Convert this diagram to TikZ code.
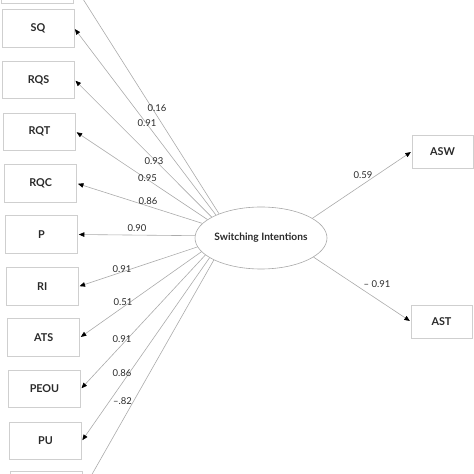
\documentclass[tikz,border=0pt]{standalone}
\usepackage{fontspec}
\setmainfont{Lato}
\usetikzlibrary{arrows.meta,shapes.geometric}
\definecolor{boxc}{HTML}{CFCFCF}
\definecolor{linec}{HTML}{ABABAB}
\definecolor{ellc}{HTML}{A8A8A8}
\definecolor{txt}{HTML}{2A2A2A}
\begin{document}
\begin{tikzpicture}[x=1pt,y=1pt,
  lbox/.style={draw=boxc, line width=0.6pt, minimum width=72pt, minimum height=37.5pt, inner sep=0pt, font=\bfseries\fontsize{10.8}{12}\selectfont, text=txt},
  rbox/.style={draw=boxc, line width=0.6pt, minimum width=61pt, minimum height=33pt, inner sep=0pt, font=\bfseries\fontsize{10.8}{12}\selectfont, text=txt},
  arr/.style={draw=linec, line width=0.6pt, shorten >=1pt, -{Triangle[length=5.5pt,width=4.5pt,color=black]}},
  lab/.style={font=\fontsize{9.5}{11}\selectfont, text=txt, inner sep=0pt}]
\useasboundingbox (0,0) rectangle (474,474);
% left boxes
\node[lbox] (top)  at (37.5,489.5) {};
\node[lbox] (sq)   at (38.0,445.7) {SQ};
\node[lbox] (rqs)  at (38.5,394.0) {RQS};
\node[lbox] (rqt)  at (39.5,342.3) {RQT};
\node[lbox] (rqc)  at (40.7,290.5) {RQC};
\node[lbox] (p)    at (41.5,239.5) {P};
\node[lbox] (ri)   at (42.3,187.5) {RI};
\node[lbox] (ats)  at (43.7,136.5) {ATS};
\node[lbox] (peou) at (44.5,85.0) {PEOU};
\node[lbox] (pu)   at (45.5,33.0) {PU};
\node[lbox] (bot)  at (46.5,-16.5) {};
% latent
\node[ellipse, draw=ellc, line width=0.6pt, minimum width=132pt, minimum height=62pt, inner sep=0pt, font=\bfseries\fontsize{10.2}{12}\selectfont, text=txt] (e) at (261,236) {Switching Intentions};
% right boxes
\node[rbox] (asw) at (442.5,322.5) {ASW};
\node[rbox] (ast) at (441.5,152.5) {AST};
% connectors
\draw[arr] (e.150) -- (top.east);
\draw[arr] (e.153) -- (sq.east);
\draw[arr] (e.157) -- (rqs.east);
\draw[arr] (e.161) -- (rqt.east);
\draw[arr] (e.166) -- (rqc.east);
\draw[arr] (e.178) -- (p.east);
\draw[arr] (e.188) -- (ri.east);
\draw[arr] (e.193) -- (ats.east);
\draw[arr] (e.197) -- (peou.east);
\draw[arr] (e.201) -- (pu.east);
\draw[arr] (e.205) -- (bot.east);
\draw[arr] (e.21) -- (asw.west);
\draw[arr] (e.-20) -- (ast.west);
% labels
\node[lab] (l1)  at (157,366) {0.16};
\node[lab] (l2)  at (147,351) {0.91};
\node[lab] (l3)  at (154,313) {0.93};
\node[lab] (l4)  at (147.5,296) {0.95};
\node[lab] (l5)  at (148,273) {0.86};
\node[lab] (l6)  at (137,246) {0.90};
\node[lab] (l7)  at (122,205) {0.91};
\node[lab] (l8)  at (123,172) {0.51};
\node[lab] (l9)  at (122,135) {0.91};
\node[lab] (l10) at (122,101) {0.86};
\node[lab] (l11) at (122.5,73) {--.82};
\node[lab] (l12) at (363,299) {0.59};
\node[lab] (l13) at (377,190) {-- 0.91};
\end{tikzpicture}
\end{document}
